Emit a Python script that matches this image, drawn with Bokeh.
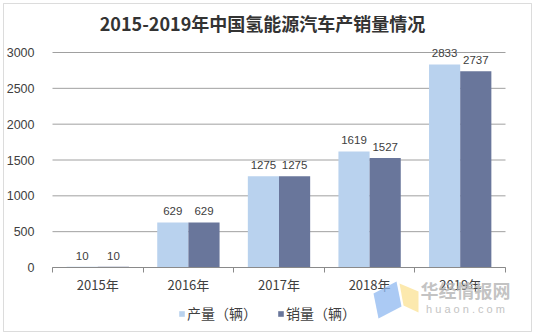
import numpy as np
from bokeh.plotting import figure
from bokeh.models import (ColumnDataSource, Range1d, FixedTicker, Label, Legend, LegendItem,
                          BoxAnnotation, PolyAnnotation)
from bokeh.core.properties import value
from bokeh.embed import file_html
from bokeh.resources import INLINE

years = ["2015年", "2016年", "2017年", "2018年", "2019年"]
production = [10, 629, 1275, 1619, 2833]
sales = [10, 629, 1275, 1527, 2737]
y_ticks = [0, 500, 1000, 1500, 2000, 2500, 3000]
title_text = "2015-2019年中国氢能源汽车产销量情况"
series_names = ["产量（辆）", "销量（辆）"]

LIGHT = "#B9D2EE"
DARK = "#69769B"
CJK = "Noto Sans CJK SC"
NUM = "Liberation Sans"

W, H = 534, 335
# plot-area placement in pixels
PL, PR, PT, PB = 52, 505, 52, 267
n = len(years)
ymax = y_ticks[-1]
xpp = n / (PR - PL)          # data units per pixel (x)
ypp = ymax / (PB - PT)       # data units per pixel (y)

idx = np.arange(n)
centers = idx + 0.5
src = ColumnDataSource(dict(
    xp=centers - 0.172, xs=centers + 0.172,
    prod=production, sales=sales,
    prod_lbl=[str(v) for v in production], sales_lbl=[str(v) for v in sales],
))

p = figure(width=W, height=H, output_backend="svg", toolbar_location=None,
           x_range=Range1d(-PL * xpp, n + (W - PR) * xpp),
           y_range=Range1d(-(H - PB) * ypp, ymax + PT * ypp),
           min_border=0)
p.outline_line_color = None
p.background_fill_color = "white"
p.border_fill_color = "white"
p.xgrid.visible = False
p.ygrid.visible = False

# gridlines across the plot area
p.segment(x0=0, x1=n, y0=y_ticks, y1=y_ticks, line_color="#a0a0a0", line_width=1)

r1 = p.vbar(x="xp", top="prod", width=0.344, source=src, fill_color=LIGHT, line_color=None)
r2 = p.vbar(x="xs", top="sales", width=0.344, source=src, fill_color=DARK, line_color=None)

p.text(x="xp", y="prod", text="prod_lbl", source=src, text_align="center", text_baseline="bottom",
       y_offset=-7, text_font=value(NUM), text_font_size="11.5px", text_color="#404040")
p.text(x="xs", y="sales", text="sales_lbl", source=src, text_align="center", text_baseline="bottom",
       y_offset=-7, text_font=value(NUM), text_font_size="11.5px", text_color="#404040")

# y axis
p.yaxis.fixed_location = 0
p.yaxis.ticker = FixedTicker(ticks=y_ticks)
p.yaxis.axis_line_color = None
p.yaxis.major_tick_line_color = None
p.yaxis.minor_tick_line_color = None
p.yaxis.major_label_text_font = NUM
p.yaxis.major_label_text_font_size = "12.5px"
p.yaxis.major_label_text_color = "#404040"
p.yaxis.major_label_standoff = 12

# x axis
p.xaxis.fixed_location = 0
p.xaxis.bounds = (0, n)
p.xaxis.ticker = FixedTicker(ticks=list(centers), minor_ticks=list(np.arange(n + 1)))
p.xaxis.major_label_overrides = {float(c): y for c, y in zip(centers, years)}
p.xaxis.major_tick_line_color = None
p.xaxis.major_tick_out = 5
p.xaxis.minor_tick_line_color = "#8a8a8a"
p.xaxis.minor_tick_out = 5
p.xaxis.minor_tick_in = 0
p.xaxis.axis_line_color = "#8a8a8a"
p.xaxis.major_label_text_font = CJK
p.xaxis.major_label_text_font_size = "13px"
p.xaxis.major_label_text_color = "#404040"
p.xaxis.major_label_standoff = 2

legend = Legend(items=[LegendItem(label=series_names[0], renderers=[r1]),
                       LegendItem(label=series_names[1], renderers=[r2])],
                orientation="horizontal", location=(178, 12),
                label_text_font=CJK, label_text_font_size="14px", label_text_color="#404040",
                glyph_width=7, glyph_height=7, spacing=20, label_standoff=2,
                border_line_color=None, background_fill_alpha=0, padding=2, margin=0)
p.add_layout(legend, "center")

# watermark logo + text
p.add_layout(PolyAnnotation(xs=[373, 396, 401, 378], ys=[H - 293, H - 281, H - 306, H - 318],
                            xs_units="screen", ys_units="screen",
                            fill_color="#8fb8f0", fill_alpha=0.75, line_color=None))
p.add_layout(PolyAnnotation(xs=[399, 418, 418, 403], ys=[H - 283, H - 291, H - 312, H - 305],
                            xs_units="screen", ys_units="screen",
                            fill_color="#fbe49a", fill_alpha=0.8, line_color=None))
p.add_layout(Label(x=465, y=H - 289, x_units="screen", y_units="screen", text="华经情报网",
                   text_align="center", text_baseline="middle", text_font=CJK,
                   text_font_style="bold", text_font_size="18px", text_color="#b8b8b8",
                   text_alpha=0.85))
p.add_layout(Label(x=465, y=H - 308, x_units="screen", y_units="screen", text="h u a o n . c o m",
                   text_align="center", text_baseline="middle", text_font=NUM,
                   text_font_size="11px", text_color="#c4c4c4"))

# title
p.add_layout(Label(x=262, y=H - 22, x_units="screen", y_units="screen", text=title_text,
                   text_align="center", text_baseline="middle", text_font=CJK,
                   text_font_style="bold", text_font_size="18px", text_color="#333333"))

# outer border
p.add_layout(BoxAnnotation(left=3, right=W - 3, bottom=4, top=H - 3, left_units="screen",
                           right_units="screen", bottom_units="screen", top_units="screen",
                           fill_alpha=0, line_color="#8a8a8a", line_width=1))

open("out.html", "w").write(file_html(p, INLINE))
